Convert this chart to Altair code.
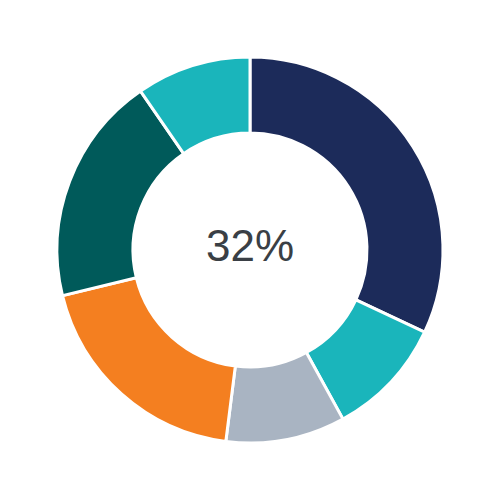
import pandas as pd
import altair as alt

# slices, clockwise from 12 o'clock
segments = ['A', 'B', 'C', 'D', 'E', 'F']
shares = [32, 10, 10, 19.2, 19.2, 9.6]
colors = ['#1c2b5a', '#1ab5bb', '#a9b4c2', '#f47f20', '#005a5a', '#1ab5bb']
center_label = '32%'

df = pd.DataFrame({'segment': segments, 'share': shares, 'order': range(len(segments))})

donut = alt.Chart(df).mark_arc(
    outerRadius = 193, innerRadius = 117, stroke = 'white', strokeWidth = 3
).encode(
    theta = alt.Theta('share:Q', stack = True),
    order = alt.Order('order:Q'),
    color = alt.Color('segment:N', scale = alt.Scale(domain = segments, range = colors), legend = None)
)

label = alt.Chart(pd.DataFrame({'text': [center_label]})).mark_text(
    font = 'Liberation Sans', fontSize = 44, color = '#3a3f45', baseline = 'middle', align = 'center'
).encode(
    text = 'text:N',
    x = alt.value(242), y = alt.value(240)
)

chart = alt.layer(donut, label).properties(
    width = 484, height = 484, padding = 0,
    autosize = alt.AutoSizeParams(type = 'fit', contains = 'padding')
).configure_view(stroke = None)

chart.save("out.html", embed_options={"renderer": "svg", "actions": False})
